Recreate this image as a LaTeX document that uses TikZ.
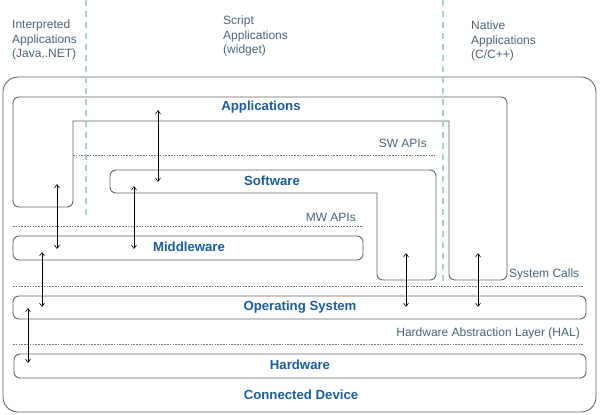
\documentclass[tikz,border=0pt]{standalone}
\usepackage{fontspec}
\setmainfont{Liberation Sans}
\usepackage{tikz}
\usetikzlibrary{arrows.meta, positioning, calc}

\begin{document}
\begin{tikzpicture}[x=1pt, y=-1pt,
    layer/.style={draw=boxgray, line width=0.9pt, rounded corners=6pt},
    api/.style={draw=gray!90!black, line width=0.6pt, dash pattern=on 1.6pt off 1.2pt},
    column/.style={draw=colblue, line width=1.4pt, dash pattern=on 6pt off 5pt},
    title/.style={text=titleblue, font=\fontsize{13.2}{15}\selectfont\bfseries, inner sep=0pt},
    note/.style={text=notegray, font=\fontsize{12}{14.5}\selectfont, inner sep=0pt},
    link/.style={<->, >={Straight Barb[length=3.5pt, width=5pt]}, line width=0.6pt}]
        % Định nghĩa màu sắc
        \definecolor{boxgray}{RGB}{100, 100, 105}
        \definecolor{titleblue}{RGB}{27, 94, 155}
        \definecolor{notegray}{RGB}{74, 100, 120}
        \definecolor{colblue}{RGB}{170, 207, 218}

        \useasboundingbox (0,0) rectangle (600,415);

        % 1. Khung ngoài (Connected Device)
        \draw[layer, rounded corners=15pt] (3,77) rectangle (596,412);

        % 2. Khối Applications và Software
        \draw[layer] (13,150) -- (13,97) -- (507,97) -- (507,280) -- (449,280)
            [sharp corners] -- (449,121) -- (73,121) [rounded corners=6pt] -- (73,207) -- (13,207) -- cycle;
        \draw[layer] (110,181) -- (110,170) -- (436,170) -- (436,280) -- (377,280)
            [sharp corners] -- (377,193) [rounded corners=6pt] -- (110,193) -- cycle;

        % 3. Các lớp Middleware, Operating System, Hardware
        \draw[layer] (13,236) rectangle (363,260);
        \draw[layer] (13,296) rectangle (586,319);
        \draw[layer] (14,354) rectangle (586,378);

        % 4. Các đường API (nét đứt)
        \draw[api] (73,155) -- (435,155);
        \draw[api] (13,226) -- (363,226);
        \draw[api] (13,286) -- (584,286);
        \draw[api] (13,344) -- (584,344);

        % 5. Đường phân cột (xanh nhạt)
        \draw[column] (86,0) -- (86,218);
        \draw[column] (443,0) -- (443,283);

        % 6. Tên các lớp
        \node[title] (apps) at (261,107) {Applications};
        \node[title] (sw) at (272,181) {Software};
        \node[title] (mw) at (189,247) {Middleware};
        \node[title] (os) at (300,307) {Operating System};
        \node[title] (hw) at (300,365) {Hardware};
        \node[title] (dev) at (301,395) {Connected Device};

        % 7. Nhãn nhỏ
        \node[note, anchor=east] (swapi) at (427,143) {SW APIs};
        \node[note, anchor=east] (mwapi) at (356,217) {MW APIs};
        \node[note, anchor=west] (syscall) at (509,274) {System Calls};
        \node[note, anchor=east] (hal) at (580,333) {Hardware Abstraction Layer (HAL)};
        \node[note, anchor=north west, align=left] (interp) at (12,20) {Interpreted\\Applications\\(Java,.NET)};
        \node[note, anchor=north west, align=left] (script) at (223,16) {Script\\Applications\\(widget)};
        \node[note, anchor=north west, align=left] (native) at (471,21) {Native\\Applications\\(C/C++)};

        % 8. Mũi tên hai chiều
        \foreach \x/\ya/\yb [count=\i] in {158/110/182, 57/184/249, 134/186/249, 42/252/307,
                                          28/308/363, 406/253/307, 478/253/307} {
            \coordinate (top\i) at (\x,\ya);
            \coordinate (bot\i) at (\x,\yb);
            \draw[link] (top\i) -- (bot\i);
        }
    \end{tikzpicture}
\end{document}
